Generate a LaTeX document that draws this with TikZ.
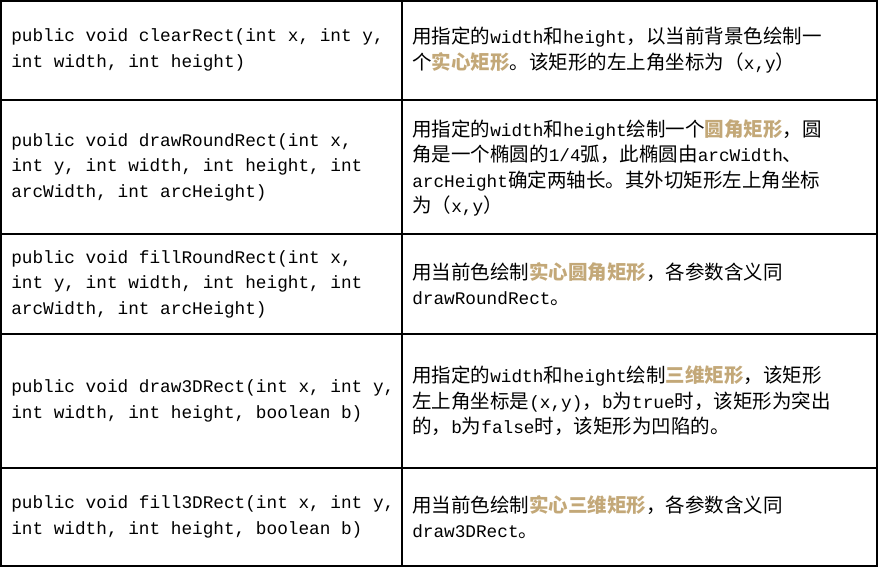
\documentclass[tikz,border=0pt]{standalone}
\usepackage{fontspec}
\setmainfont{Liberation Mono}
\newfontfamily\cjk[Scale=1.1]{Noto Sans CJK SC}
\definecolor{hl}{HTML}{C3A878}
\newcommand\C[1]{{\cjk #1}}
\newcommand\hl[1]{{\cjk\bfseries\color{hl}#1}}
\begin{document}
\begin{tikzpicture}[x=0.75pt,y=-0.75pt,
  cell/.style={anchor=west,align=left,inner sep=0pt,font=\fontsize{13.3}{19.1}\selectfont}]
\useasboundingbox (0,0) rectangle (879,567);
\draw[line width=1pt] (1,1) rectangle (877,566);
\foreach \y in {100,234,334,468} \draw[line width=1pt] (1,\y) -- (877,\y);
\draw[line width=1pt] (402,1) -- (402,566);
% left column
\node[cell] (l1) at (11,50) {public void clearRect(int x, int y,\\int width, int height)};
\node[cell] (l2) at (11,167) {public void drawRoundRect(int x,\\int y, int width, int height, int\\arcWidth, int arcHeight)};
\node[cell] (l3) at (11,284) {public void fillRoundRect(int x,\\int y, int width, int height, int\\arcWidth, int arcHeight)};
\node[cell] (l4) at (11,401) {public void draw3DRect(int x, int y,\\int width, int height, boolean b)};
\node[cell] (l5) at (11,517) {public void fill3DRect(int x, int y,\\int width, int height, boolean b)};
% right column
\node[cell] (r1) at (412,50) {\C{用指定的}width\C{和}height\C{，以当前背景色绘制一}\\\C{个}\hl{实心矩形}\C{。该矩形的左上角坐标为（}x,y\C{）}};
\node[cell] (r2) at (412,168) {\C{用指定的}width\C{和}height\C{绘制一个}\hl{圆角矩形}\C{，圆}\\\C{角是一个椭圆的}1/4\C{弧，此椭圆由}arcWidth\C{、}\\arcHeight\C{确定两轴长。其外切矩形左上角坐标}\\\C{为（}x,y\C{）}};
\node[cell] (r3) at (412,284) {\C{用当前色绘制}\hl{实心圆角矩形}\C{，各参数含义同}\\drawRoundRect\C{。}};
\node[cell] (r4) at (412,401) {\C{用指定的}width\C{和}height\C{绘制}\hl{三维矩形}\C{，该矩形}\\\C{左上角坐标是}(x,y)\C{，}b\C{为}true\C{时，该矩形为突出}\\\C{的，}b\C{为}false\C{时，该矩形为凹陷的。}};
\node[cell] (r5) at (412,517) {\C{用当前色绘制}\hl{实心三维矩形}\C{，各参数含义同}\\draw3DRect\C{。}};
\end{tikzpicture}
\end{document}
